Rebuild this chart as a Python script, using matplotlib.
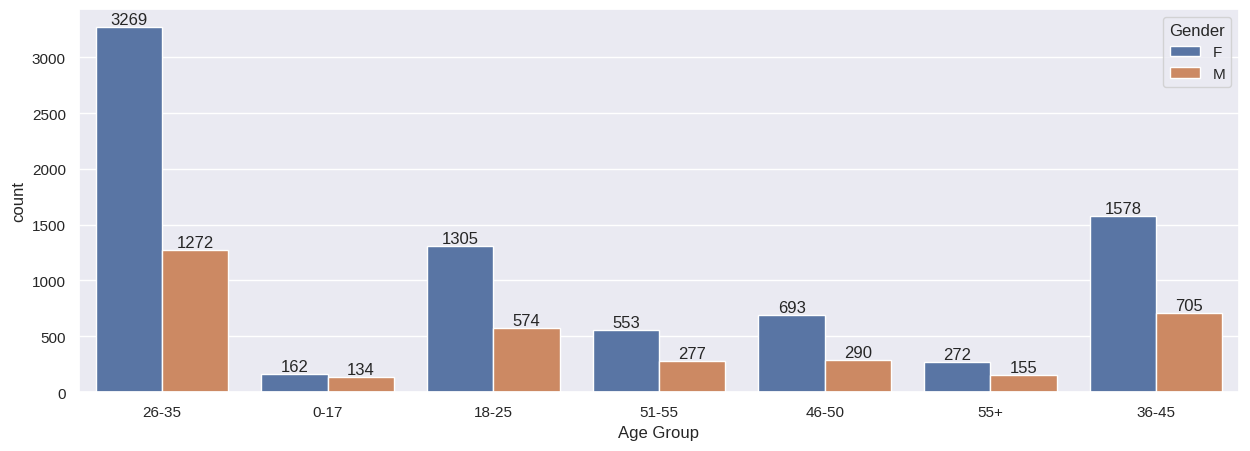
import matplotlib
matplotlib.use("Agg")
import matplotlib.pyplot as plt
import seaborn as sns
import pandas as pd

age_groups = ["26-35", "0-17", "18-25", "51-55", "46-50", "55+", "36-45"]
female_counts = [3269, 162, 1305, 553, 693, 272, 1578]
male_counts = [1272, 134, 574, 277, 290, 155, 705]

sns.set_theme()
plt.rcParams['font.family'] = ['Liberation Sans', 'DejaVu Sans']

df = pd.DataFrame({
    "Age Group": age_groups * 2,
    "Gender": ["F"] * len(age_groups) + ["M"] * len(age_groups),
    "count": female_counts + male_counts,
})

fig = plt.figure(figsize=(12.5, 4.52), dpi=100)
ax = fig.add_axes([0.0632, 0.1305, 0.928, 0.8473])
sns.barplot(data=df, x="Age Group", y="count", hue="Gender", order=age_groups,
            hue_order=["F", "M"], ax=ax)
for c in ax.containers:
    ax.bar_label(c)
fig.savefig("out.png", dpi=100)
